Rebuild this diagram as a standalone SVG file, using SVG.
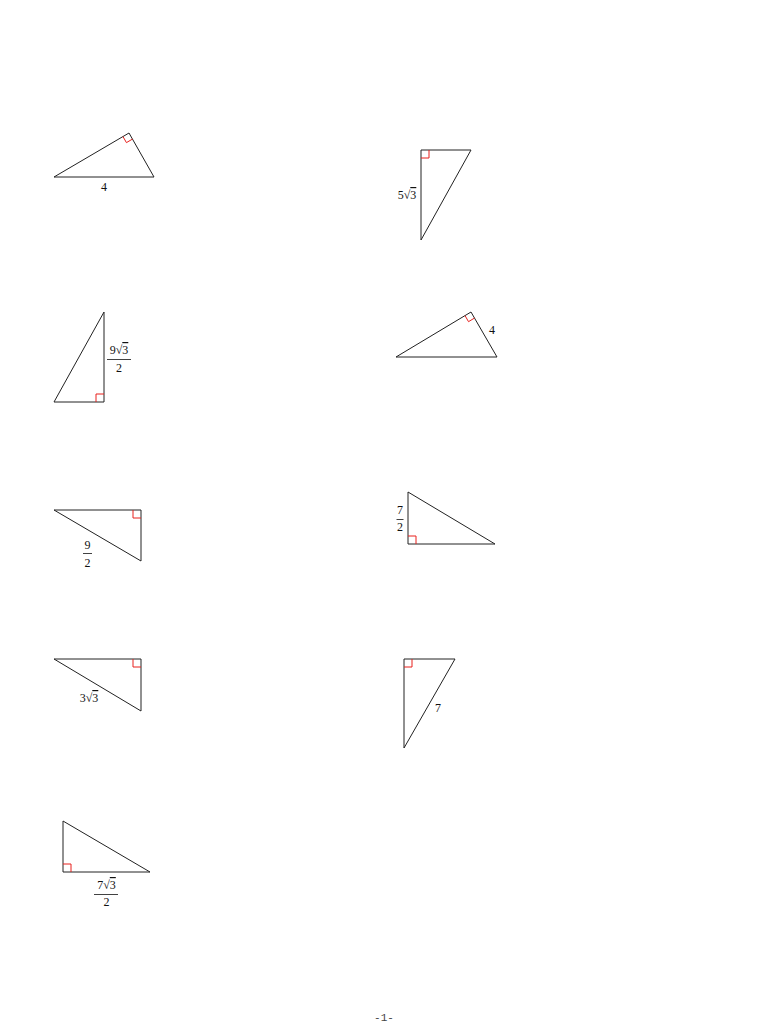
<svg xmlns="http://www.w3.org/2000/svg" width="768" height="1024" viewBox="0 0 768 1024">
<style>
.tri{fill:none;stroke:#222;stroke-width:1}
.ra{fill:none;stroke:#e8201c;stroke-width:1}
.lbl{font-family:'Liberation Serif','Times New Roman',serif;font-size:12px;fill:#111;text-anchor:middle}
.ov{text-decoration:overline}
.fr{stroke:#111;stroke-width:0.8}
.pg{font-family:'Liberation Mono',monospace;font-size:11px;fill:#444;text-anchor:middle}
</style>
<rect width="768" height="1024" fill="#fff"/>
<g id="t1">
<polygon class="tri" points="54,177 154,177 129,133"/>
<polyline class="ra" points="122.97,136.55 126.43,142.63 132.46,139.08"/>
<text class="lbl" x="104" y="191">4</text>
</g>
<g id="t2">
<polygon class="tri" points="421,150 471,150 421,240"/>
<polyline class="ra" points="421,158 429,158 429,150"/>
<text class="lbl" x="407" y="199">5√<tspan class="ov">3</tspan></text>
</g>
<g id="t3">
<polygon class="tri" points="104,312 54,402 104,402"/>
<polyline class="ra" points="96,402 96,394 104,394"/>
<text class="lbl" x="119" y="354">9√<tspan class="ov">3</tspan></text>
<line class="fr" x1="107" y1="359.5" x2="131" y2="359.5"/>
<text class="lbl" x="119" y="372">2</text>
</g>
<g id="t4">
<polygon class="tri" points="396,357 497,357 471,312"/>
<polyline class="ra" points="465.0,315.6 468.5,321.66 474.5,318.06"/>
<text class="lbl" x="492" y="334">4</text>
</g>
<g id="t5">
<polygon class="tri" points="54,510 141,510 141,561"/>
<polyline class="ra" points="133,510 133,518 141,518"/>
<text class="lbl" x="87.5" y="549">9</text>
<line class="fr" x1="83" y1="553.5" x2="92" y2="553.5"/>
<text class="lbl" x="87.5" y="567">2</text>
</g>
<g id="t6">
<polygon class="tri" points="408,492 408,544 495,544"/>
<polyline class="ra" points="408,536 416,536 416,544"/>
<text class="lbl" x="400" y="514">7</text>
<line class="fr" x1="396.5" y1="519.5" x2="403.5" y2="519.5"/>
<text class="lbl" x="400" y="531">2</text>
</g>
<g id="t7">
<polygon class="tri" points="54,659 141,659 141,711"/>
<polyline class="ra" points="133,659 133,667 141,667"/>
<text class="lbl" x="89" y="702">3√<tspan class="ov">3</tspan></text>
</g>
<g id="t8">
<polygon class="tri" points="404,659 455,659 404,748"/>
<polyline class="ra" points="404,667 412,667 412,659"/>
<text class="lbl" x="438" y="712">7</text>
</g>
<g id="t9">
<polygon class="tri" points="63,821 63,872 150,872"/>
<polyline class="ra" points="63,864 71,864 71,872"/>
<text class="lbl" x="106.5" y="889">7√<tspan class="ov">3</tspan></text>
<line class="fr" x1="94" y1="894.5" x2="118" y2="894.5"/>
<text class="lbl" x="106.5" y="906">2</text>
</g>
<text class="pg" x="384" y="1021">-1-</text>
</svg>
